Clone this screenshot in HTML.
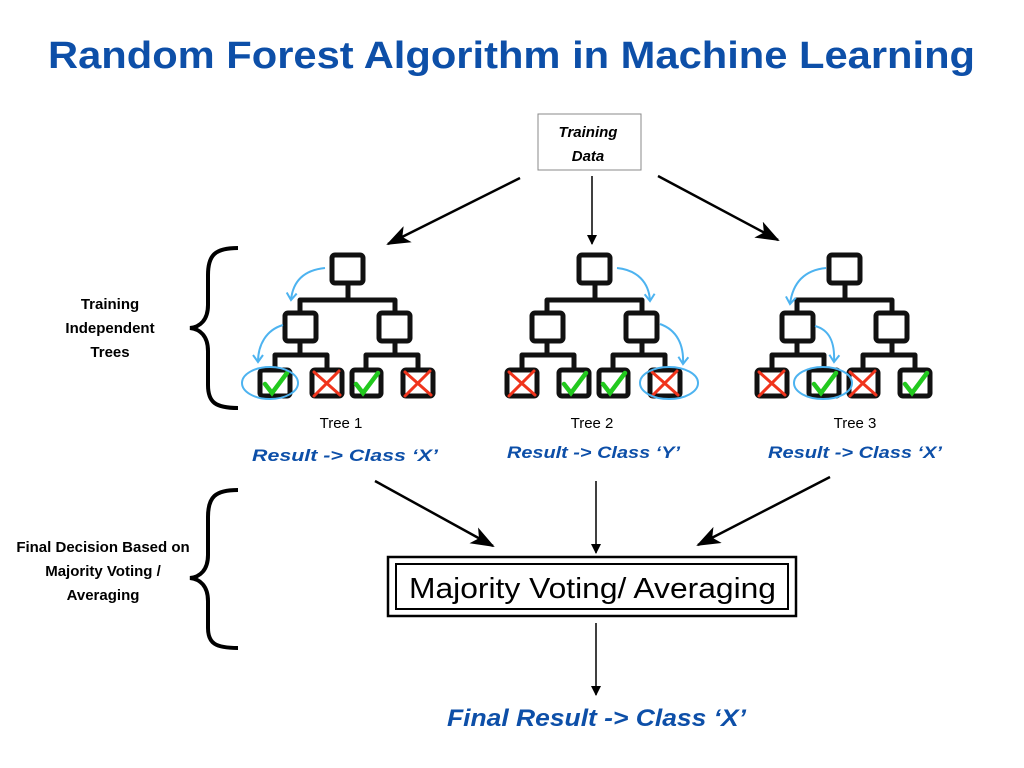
<!DOCTYPE html>
<html><head><meta charset="utf-8"><style>
html,body{margin:0;padding:0;background:#fff;}
svg{display:block;font-family:"Liberation Sans",sans-serif;}
</style></head><body>
<svg width="1024" height="768" viewBox="0 0 1024 768" xmlns="http://www.w3.org/2000/svg">
<defs>
<marker id="ah" markerWidth="10" markerHeight="10" refX="9" refY="5" orient="auto" markerUnits="userSpaceOnUse">
<path d="M0,0 L10,5 L0,10 z" fill="#000"/></marker>
<marker id="ahb" markerWidth="24" markerHeight="18" refX="22" refY="9" orient="auto" markerUnits="userSpaceOnUse">
<path d="M0,0 L24,9 L0,18 L6,9 z" fill="#000"/></marker>
<marker id="blue" markerWidth="12" markerHeight="12" refX="8" refY="6" orient="auto" markerUnits="userSpaceOnUse">
<path d="M1,1 L8,6 L1,11" fill="none" stroke="#4db3f0" stroke-width="2"/></marker>
<g id="tree" fill="none" stroke="#111" stroke-width="5" stroke-linejoin="round">
<rect x="332" y="255" width="31" height="28" rx="3"/>
<path d="M348,283 V300 M300,312 V300 H395 V312"/>
<rect x="285" y="313" width="31" height="28" rx="3"/>
<rect x="379" y="313" width="31" height="28" rx="3"/>
<path d="M300,341 V355 M275,369 V355 H327 V369 M395,341 V355 M366,369 V355 H418 V369"/>
<rect x="260" y="370" width="30" height="26" rx="3"/>
<rect x="312" y="370" width="30" height="26" rx="3"/>
<rect x="352" y="370" width="29" height="26" rx="3"/>
<rect x="403" y="370" width="30" height="26" rx="3"/>
</g>
<path id="chk" d="M-10,1 L-3,10 L12,-10" fill="none" stroke="#22c91e" stroke-width="4.5" stroke-linecap="round"/>
<path id="crs" d="M-13,-11 L13,12 M12,-12 L-13,13" fill="none" stroke="#f0341c" stroke-width="3" stroke-linecap="round"/>
</defs>

<text x="48" y="68" font-size="38" font-weight="bold" fill="#0d4fa8" textLength="927" lengthAdjust="spacingAndGlyphs">Random Forest Algorithm in Machine Learning</text>

<rect x="538" y="114" width="103" height="56" fill="#fff" stroke="#888" stroke-width="1"/>
<text x="588" y="137" text-anchor="middle" font-size="15" font-weight="bold" font-style="italic">Training</text>
<text x="588" y="161" text-anchor="middle" font-size="15" font-weight="bold" font-style="italic">Data</text>

<g stroke="#000" stroke-width="2.5" fill="none">
<line x1="520" y1="178" x2="388" y2="244" marker-end="url(#ahb)"/>
<line x1="592" y1="176" x2="592" y2="244" stroke-width="1.5" marker-end="url(#ah)"/>
<line x1="658" y1="176" x2="778" y2="240" marker-end="url(#ahb)"/>
<line x1="375" y1="481" x2="493" y2="546" marker-end="url(#ahb)"/>
<line x1="596" y1="481" x2="596" y2="553" stroke-width="1.5" marker-end="url(#ah)"/>
<line x1="830" y1="477" x2="698" y2="545" marker-end="url(#ahb)"/>
<line x1="596" y1="623" x2="596" y2="695" stroke-width="1.5" marker-end="url(#ah)"/>
</g>

<path d="M238,248 C215,248 208,255 208,275 L208,305 C208,320 200,327 190,328 C200,329 208,336 208,351 L208,385 C208,402 215,408 238,408" fill="none" stroke="#000" stroke-width="4"/>
<path d="M238,490 C215,490 208,497 208,517 L208,555 C208,570 200,577 190,578 C200,579 208,586 208,601 L208,628 C208,643 215,648 238,648" fill="none" stroke="#000" stroke-width="4"/>

<g font-size="15" font-weight="bold" text-anchor="middle">
<text x="110" y="309">Training</text>
<text x="110" y="333">Independent</text>
<text x="110" y="357">Trees</text>
<text x="103" y="552">Final Decision Based on</text>
<text x="103" y="576">Majority Voting /</text>
<text x="103" y="600">Averaging</text>
</g>

<!-- Tree 1 -->
<use href="#tree"/>
<use href="#chk" x="275" y="383"/><use href="#crs" x="327" y="383"/><use href="#chk" x="366" y="383"/><use href="#crs" x="418" y="383"/>
<ellipse cx="270" cy="383" rx="28" ry="16" fill="none" stroke="#4db3f0" stroke-width="2"/>
<path d="M325,268 C305,270 293,280 291,300" fill="none" stroke="#4db3f0" stroke-width="2" marker-end="url(#blue)"/>
<path d="M283,325 C266,330 258,345 258,362" fill="none" stroke="#4db3f0" stroke-width="2" marker-end="url(#blue)"/>
<text x="341" y="428" text-anchor="middle" font-size="15">Tree 1</text>
<text x="252" y="461" font-size="17" font-weight="bold" font-style="italic" fill="#0d4fa8" textLength="186" lengthAdjust="spacingAndGlyphs">Result -&gt;  Class ‘X’</text>

<!-- Tree 2 -->
<g transform="translate(247,0)"><use href="#tree"/></g>
<use href="#crs" x="522" y="383"/><use href="#chk" x="574" y="383"/><use href="#chk" x="613" y="383"/><use href="#crs" x="665" y="383"/>
<ellipse cx="669" cy="383" rx="29" ry="16" fill="none" stroke="#4db3f0" stroke-width="2"/>
<path d="M617,268 C637,270 649,282 650,301" fill="none" stroke="#4db3f0" stroke-width="2" marker-end="url(#blue)"/>
<path d="M660,324 C677,330 684,345 683,364" fill="none" stroke="#4db3f0" stroke-width="2" marker-end="url(#blue)"/>
<text x="592" y="428" text-anchor="middle" font-size="15">Tree 2</text>
<text x="507" y="458" font-size="17" font-weight="bold" font-style="italic" fill="#0d4fa8" textLength="173" lengthAdjust="spacingAndGlyphs">Result -&gt;  Class ‘Y’</text>

<!-- Tree 3 -->
<g transform="translate(497,0)"><use href="#tree"/></g>
<use href="#crs" x="772" y="383"/><use href="#chk" x="824" y="383"/><use href="#crs" x="863" y="383"/><use href="#chk" x="915" y="383"/>
<ellipse cx="823" cy="383" rx="29" ry="16" fill="none" stroke="#4db3f0" stroke-width="2"/>
<path d="M826,268 C806,270 793,281 790,304" fill="none" stroke="#4db3f0" stroke-width="2" marker-end="url(#blue)"/>
<path d="M815,326 C830,330 835,343 834,362" fill="none" stroke="#4db3f0" stroke-width="2" marker-end="url(#blue)"/>
<text x="855" y="428" text-anchor="middle" font-size="15">Tree 3</text>
<text x="768" y="458" font-size="17" font-weight="bold" font-style="italic" fill="#0d4fa8" textLength="174" lengthAdjust="spacingAndGlyphs">Result -&gt;  Class ‘X’</text>

<rect x="388" y="557" width="408" height="59" fill="#fff" stroke="#000" stroke-width="2.5"/>
<rect x="396" y="564" width="392" height="45" fill="none" stroke="#000" stroke-width="2"/>
<text x="409" y="598" font-size="29" textLength="367" lengthAdjust="spacingAndGlyphs">Majority Voting/ Averaging</text>

<text x="447" y="726" font-size="24" font-weight="bold" font-style="italic" fill="#0d4fa8" textLength="299" lengthAdjust="spacingAndGlyphs">Final Result -&gt;  Class ‘X’</text>
</svg>
</body></html>
